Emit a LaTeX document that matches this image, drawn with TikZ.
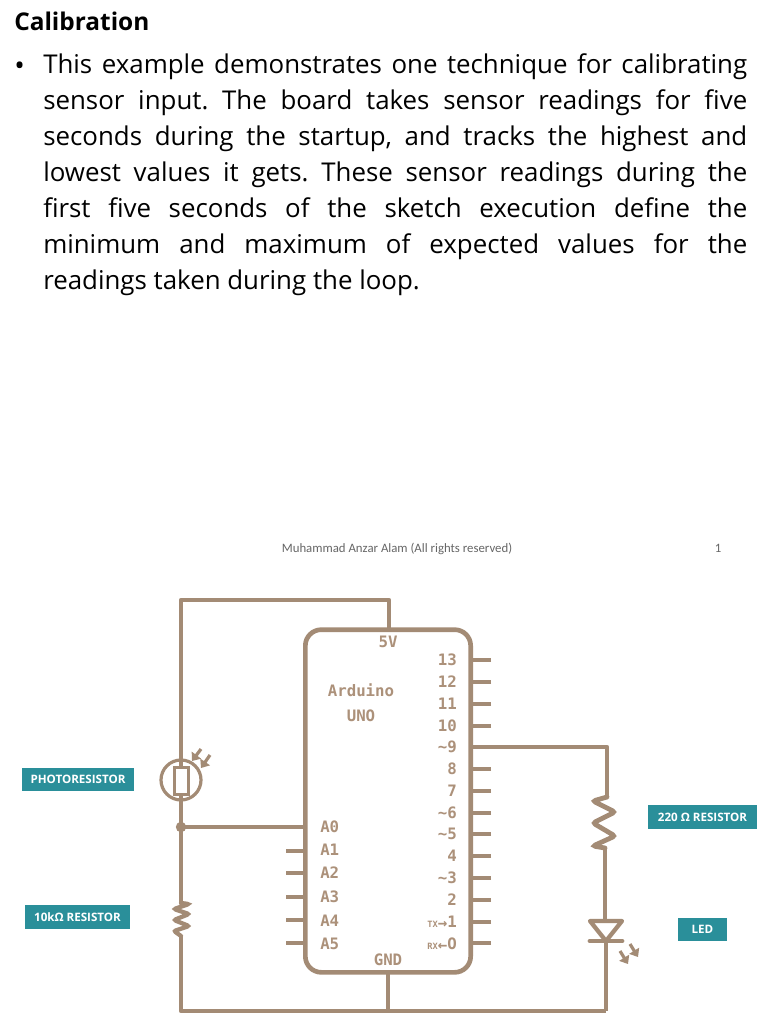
\documentclass[tikz,border=0pt]{standalone}
\usepackage{fontspec}
\setmainfont{Open Sans}
\newfontfamily\cali{Carlito}
\newfontfamily\dmono{DejaVu Sans Mono}
\usetikzlibrary{arrows.meta}
\definecolor{wire}{HTML}{A38B75}
\definecolor{brd}{HTML}{AC917A}
\definecolor{teal1}{HTML}{2A8F9A}
\tikzset{
 wireline/.style={draw=wire,line width=3.5pt,line join=round},
 pintext/.style={text=brd,font=\dmono\bfseries\fontsize{11.8}{13}\selectfont,inner sep=0pt},
 tag/.style={fill=teal1,text=white,font=\bfseries\fontsize{8.7}{10}\selectfont,inner sep=0pt,anchor=center},
 lightarrow/.style={draw=wire,line width=2.4pt,-{Triangle[length=5.5pt,width=8.5pt]}}
}
\begin{document}
\begin{tikzpicture}[x=0.75pt,y=-0.75pt]
\useasboundingbox (0,0) rectangle (768,1024);
\fill[white] (0,0) rectangle (768,1024);
\node[anchor=base west,inner sep=0pt,font=\bfseries\fontsize{18.3}{21}\selectfont] (title) at (14,31) {Calibration};
\node[anchor=base west,inner sep=0pt] (bullet) at (14,75) {\fontsize{21}{27}\selectfont •};
\node[anchor=north west,inner sep=0pt,text width=528pt,align=justify,font=\fontsize{19.4}{27}\selectfont\frenchspacing] (body) at (43,53.5)
 {This example demonstrates one technique for calibrating\linebreak sensor input. The board takes sensor readings for five\linebreak seconds during the startup, and tracks the highest and\linebreak lowest values it gets. These sensor readings during the\linebreak first five seconds of the sketch execution define the\linebreak minimum and maximum of expected values for the\linebreak readings taken during the loop.};
\node[font=\cali\fontsize{9.6}{11}\selectfont,text=black!60,inner sep=0pt] (footer) at (397,548.5) {Muhammad Anzar Alam (All rights reserved)};
\node[font=\cali\fontsize{9.6}{11}\selectfont,text=black!60,inner sep=0pt] (pagenum) at (718,548.5) {1};
% board
\node[wireline,rounded corners=12pt,minimum width=124pt,minimum height=257pt,inner sep=0pt,outer sep=0pt,fill=white] (board) at (388,801) {};
% right pins
\foreach \y/\n in {660/a,682/b,704/c,726/d,769/f,791/g,813/h,834/i,856/j,878/k,900/l,922/m,943/n}{
 \coordinate (r\n) at (491,\y);
 \draw[wireline] (r\n) -- (board.east |- r\n);
}
% left pins
\foreach \y/\n in {851/a,873/b,897/c,920/d,943/e}{
 \coordinate (l\n) at (286,\y);
 \draw[wireline] (l\n) -- (board.west |- l\n);
}
% pin labels
\foreach \y/\t in {660/13,682/12,704/11,726/10,747/\textasciitilde9,769/8,791/7,813/\textasciitilde6,834/\textasciitilde5,856/4,878/\textasciitilde3,900/2}{
 \node[pintext,anchor=east] at (457,\y) {\t};
}
\node[pintext,anchor=east] (tx) at (457,922) {{\fontsize{6.5}{8}\selectfont TX}\raisebox{-0.5pt}{→}1};
\node[pintext,anchor=east] (rx) at (457,944) {{\fontsize{6.5}{8}\selectfont RX}\raisebox{-0.5pt}{←}O};
\foreach \y/\t in {827/A0,850/A1,873/A2,897/A3,921/A4,944/A5}{
 \node[pintext,anchor=west] at (320,\y) {\t};
}
\node[pintext] (vcc) at (388,642) {5V};
\node[pintext] (gnd) at (388,960) {GND};
\node[pintext] (ard) at (361,690) {Arduino};
\node[pintext] (uno) at (361,716) {UNO};
% photoresistor
\node[draw=wire,line width=2.4pt,circle,minimum size=30pt,inner sep=0pt] (ph) at (181,780) {};
\node[draw=wire,line width=2.2pt,fill=white,minimum width=11pt,minimum height=20pt,inner sep=0pt,outer sep=0pt] (phr) at (181.5,781) {};
\coordinate (ptop) at (181,600);
\coordinate (pbot) at (181,1011);
\coordinate (rbot) at (606,1011);
\coordinate (j) at (181,827);
\coordinate (vt) at (389,600);
\coordinate (gb) at (388,1011);
\coordinate (n9) at (607,747);
% wires
\draw[wireline] (board.north -| vt) -- (vt) -- (ptop) -- (phr.north -| ptop);
\draw[wireline] (phr.south -| ptop) -- (j);
\draw[wireline] (board.west |- j) -- (j);
\fill[wire] (j) circle[radius=3.9pt];
% 10k resistor
\coordinate (k1) at (181,903);
\coordinate (k2) at (181,936);
\draw[wireline] (j) -- (k1);
\draw[wire,line width=3.2pt,line cap=round,rounded corners=1.5pt] (k1) -- (189,904) -- (174,909) -- (189,914) -- (174,920) -- (189,926) -- (174,931) -- (k2);
\draw[wireline] (k2) -- (pbot) -- (rbot);
\draw[wireline] (gb) -- (board.south -| gb);
% 220 resistor
\coordinate (s1) at (607,797);
\coordinate (s2) at (605,848);
\draw[wireline] (board.east |- n9) -- (n9) -- (s1);
\draw[wire,line width=3.6pt,line cap=round,rounded corners=2pt] (s1) -- (593,801) -- (615,812) -- (593,823) -- (615,836) -- (593,846) -- (s2);
% LED
\coordinate (d1) at (605,921);
\coordinate (d2) at (606,941);
\draw[wireline] (s2) -- (d1);
\draw[wire,line width=3.2pt,line join=round] (590,921) -- (622,921) -- (d2) -- cycle;
\draw[wire,line width=3.6pt,line cap=round] (590,941) -- (622,941);
\draw[wireline] (d2) -- (rbot);
% light arrows
\draw[lightarrow] (620,951) -- (628,964);
\draw[lightarrow] (630,944) -- (638,957);
\draw[lightarrow] (201,749) -- (192,761);
\draw[lightarrow] (210,755) -- (201,768);
% tags
\node[tag,minimum width=84pt,minimum height=17.2pt] (t1) at (78,779.5) {PHOTORESISTOR};
\node[tag,minimum width=79pt,minimum height=17.8pt] (t2) at (77.5,917) {10kΩ RESISTOR};
\node[tag,minimum width=82pt,minimum height=17.8pt] (t3) at (702.5,817) {220 Ω RESISTOR};
\node[tag,minimum width=37pt,minimum height=17.2pt] (t4) at (702.5,929.5) {LED};
\end{tikzpicture}
\end{document}
